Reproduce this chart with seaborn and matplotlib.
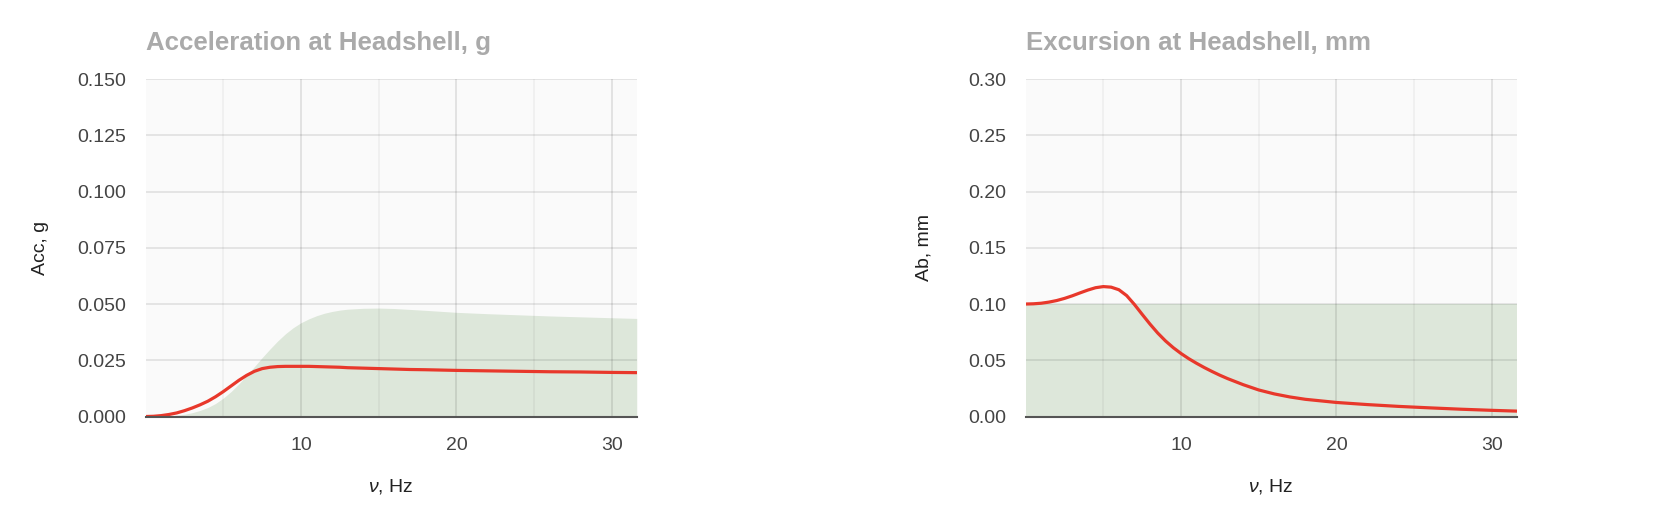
import numpy as np
import pandas as pd
import matplotlib
matplotlib.use("Agg")
import matplotlib.pyplot as plt
import seaborn as sns
from matplotlib.ticker import FixedLocator, FormatStrFormatter

# ---------------- data ----------------
freq = [0, 0.5, 1, 1.5, 2, 2.5, 3, 3.5, 4, 4.5, 5, 5.5, 6, 6.5, 7, 7.5, 8, 8.5,
        9, 9.5, 10, 10.5, 11, 11.5, 12, 12.5, 13, 14, 15, 16, 17, 18, 20, 22, 24,
        26, 28, 30, 31.6]

acc_g = [0, 0.0001, 0.0004, 0.0009, 0.0016, 0.0026, 0.0038, 0.0052, 0.0068, 0.0088,
         0.0111, 0.0136, 0.0161, 0.0183, 0.0201, 0.0213, 0.0219, 0.0222, 0.0223, 0.0223,
         0.0223, 0.0223, 0.0222, 0.0221, 0.0220, 0.0219, 0.0217, 0.0215, 0.0213, 0.0211,
         0.0209, 0.0208, 0.0205, 0.0203, 0.0201, 0.0199, 0.0198, 0.0196, 0.0195]

acc_limit = [0, 0.0000, 0.0001, 0.0003, 0.0006, 0.0010, 0.0017, 0.0027, 0.0040, 0.0058,
             0.0082, 0.0111, 0.0145, 0.0183, 0.0222, 0.0262, 0.0300, 0.0336, 0.0368, 0.0395,
             0.0417, 0.0434, 0.0448, 0.0459, 0.0467, 0.0473, 0.0477, 0.0481, 0.0482, 0.0480,
             0.0476, 0.0472, 0.0463, 0.0457, 0.0452, 0.0447, 0.0443, 0.0439, 0.0436]

exc_mm = [0.1000, 0.1002, 0.1007, 0.1017, 0.1031, 0.1050, 0.1073, 0.1099, 0.1124, 0.1145,
          0.1155, 0.1150, 0.1127, 0.1075, 0.0996, 0.0908, 0.0822, 0.0742, 0.0672, 0.0612,
          0.0560, 0.0514, 0.0473, 0.0435, 0.0400, 0.0367, 0.0337, 0.0283, 0.0236, 0.0201,
          0.0174, 0.0153, 0.0125, 0.0106, 0.0090, 0.0077, 0.0065, 0.0055, 0.0048]

exc_limit = [0.1] * len(freq)

acc_yticks = [0, 0.025, 0.05, 0.075, 0.1, 0.125, 0.15]
exc_yticks = [0, 0.05, 0.1, 0.15, 0.2, 0.25, 0.3]
x_major = [10, 20, 30]
x_minor = [5, 15, 25]

titles = ["Acceleration at Headshell, g", "Excursion at Headshell, mm"]
ylabels = ["Acc, g", "Ab, mm"]
xlabel = "$\\nu$, Hz"

df = pd.DataFrame({"freq": freq, "acc": acc_g, "acc_lim": acc_limit,
                   "exc": exc_mm, "exc_lim": exc_limit})

# ---------------- style ----------------
sns.set_theme(style="white")
plt.rcParams["font.family"] = ["Liberation Sans", "DejaVu Sans"]
plt.rcParams["mathtext.fontset"] = "custom"
plt.rcParams["mathtext.it"] = "Liberation Sans:italic"
plt.rcParams["mathtext.rm"] = "Liberation Sans"

fig = plt.figure(figsize=(16.8, 5.2), dpi=100)
ax1 = fig.add_axes([0.0867, 0.199, 0.2923, 0.649])
ax2 = fig.add_axes([0.6105, 0.199, 0.2923, 0.649])

RED = "#e8382b"
FILL = "#dde7da"

panels = [
    (ax1, "acc", "acc_lim", acc_yticks, 0.15, "%.3f", 20.5),
    (ax2, "exc", "exc_lim", exc_yticks, 0.30, "%.2f", 26),
]

for i, (ax, ycol, limcol, yticks, ymax, fmt, ylpad) in enumerate(panels):
    ax.set_facecolor("#fafafa")
    ax.fill_between(df["freq"], 0, df[limcol], color=FILL, linewidth=0, zorder=1)
    sns.lineplot(data=df, x="freq", y=ycol, ax=ax, color=RED, linewidth=2.3, zorder=3)
    ax.set_xlim(0, 31.6)
    ax.set_ylim(0, ymax)
    ax.xaxis.set_major_locator(FixedLocator(x_major))
    ax.xaxis.set_minor_locator(FixedLocator(x_minor))
    ax.yaxis.set_major_locator(FixedLocator(yticks))
    ax.yaxis.set_major_formatter(FormatStrFormatter(fmt))
    ax.set_axisbelow("line")
    ax.grid(True, which="major", axis="y", color="black", alpha=0.11, linewidth=1.1)
    ax.grid(True, which="major", axis="x", color="black", alpha=0.12, linewidth=1.1)
    ax.grid(True, which="minor", axis="x", color="black", alpha=0.05, linewidth=1.1)
    for s in ["top", "right", "left"]:
        ax.spines[s].set_visible(False)
    ax.spines["bottom"].set_color("#555555")
    ax.spines["bottom"].set_linewidth(1.5)
    ax.spines["bottom"].set_zorder(4)
    ax.tick_params(axis="both", which="both", length=0, labelsize=14, colors="#444444")
    ax.tick_params(axis="y", pad=14)
    ax.tick_params(axis="x", pad=14.5)
    ax.set_xlabel(xlabel, fontsize=14, color="#222222", labelpad=17)
    ax.set_ylabel(ylabels[i], fontsize=14, color="#222222", labelpad=ylpad)
    ax.set_title(titles[i], loc="left", fontsize=18.6, fontweight="bold",
                 color="#aaaaaa", pad=21)

fig.savefig("out.png", dpi=100, facecolor="white")
